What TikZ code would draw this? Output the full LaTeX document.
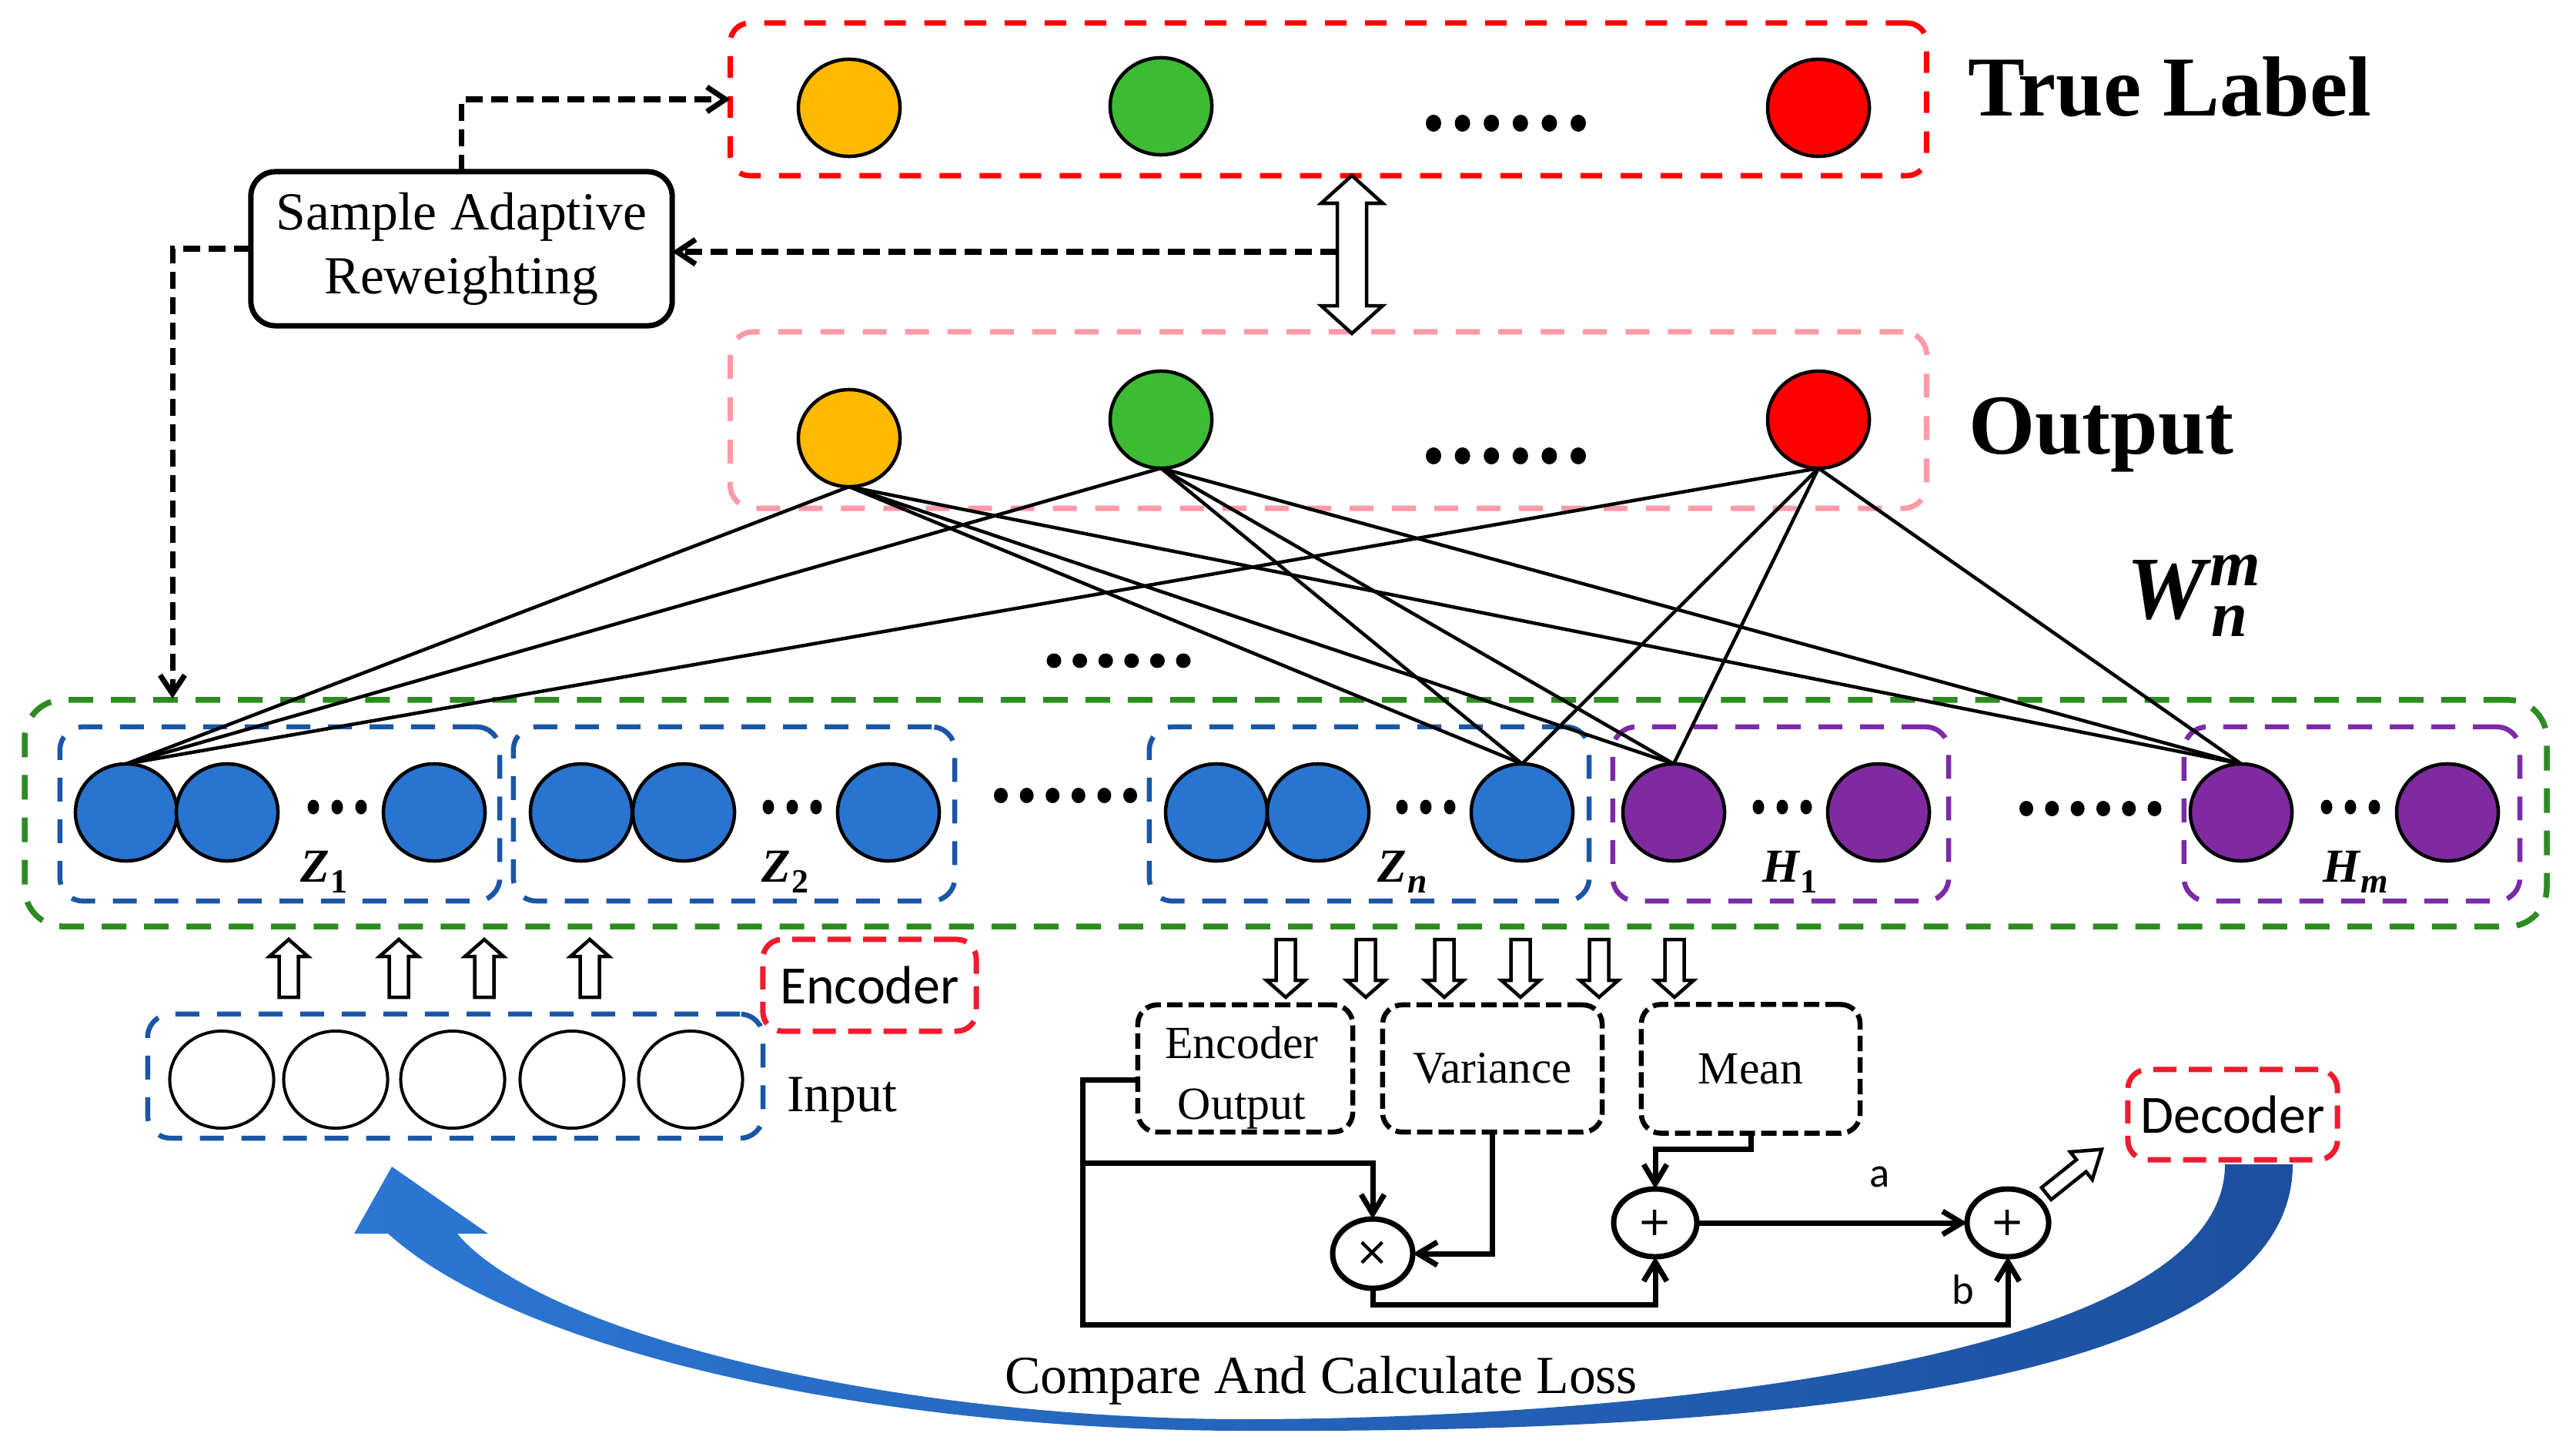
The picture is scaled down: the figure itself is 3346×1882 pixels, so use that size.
\documentclass[tikz,border=0pt]{standalone}
\usepackage{fontspec}
\setmainfont{Liberation Serif}
\newfontfamily\carl{Carlito}
\newfontfamily\djv{DejaVu Sans}
\usetikzlibrary{shapes.geometric,arrows.meta,calc}
\definecolor{tlred}{HTML}{FF0000}
\definecolor{pinkc}{HTML}{FF9AA6}
\definecolor{ogold}{HTML}{FFBA00}
\definecolor{ogreen}{HTML}{3DBB35}
\definecolor{zblue}{HTML}{2874D0}
\definecolor{bblue}{HTML}{1A56A6}
\definecolor{hpurp}{HTML}{7F2AA0}
\definecolor{ppurp}{HTML}{7B2AA8}
\definecolor{ggreen}{HTML}{2E8B22}
\definecolor{encred}{HTML}{EE1C2E}
\definecolor{arrL}{HTML}{2B77D4}
\definecolor{arrR}{HTML}{1D4F9E}
\newcommand{\myfs}[1]{\fontsize{#1}{#1}\selectfont}
\newcommand{\zlab}[2]{{\myfs{17.5}\bfseries\itshape #1\kern0.5pt\raisebox{-4pt}{\myfs{12.5}\upshape #2}}}
\newcommand{\hlab}[2]{{\myfs{17.5}\bfseries\itshape #1\kern0.5pt\raisebox{-4pt}{\myfs{13}#2}}}
\begin{document}
\begin{tikzpicture}[x=0.01cm,y=-0.01cm,
  every node/.style={inner sep=0pt,outer sep=0pt},
  tlbox/.style={draw=tlred,line width=0.07cm,dash pattern=on 0.28cm off 0.24cm,rounded corners=0.25cm},
  pkbox/.style={draw=pinkc,line width=0.07cm,dash pattern=on 0.31cm off 0.24cm,rounded corners=0.3cm},
  gbox/.style={draw=ggreen,line width=0.075cm,dash pattern=on 0.32cm off 0.23cm,rounded corners=0.5cm},
  bbox/.style={draw=bblue,line width=0.065cm,dash pattern=on 0.31cm off 0.23cm,rounded corners=0.3cm},
  pbox/.style={draw=ppurp,line width=0.065cm,dash pattern=on 0.31cm off 0.23cm,rounded corners=0.3cm},
  rbox/.style={draw=encred,line width=0.07cm,dash pattern=on 0.3cm off 0.16cm,rounded corners=0.25cm},
  kbox/.style={draw=black,line width=0.065cm,dash pattern=on 0.2cm off 0.08cm,rounded corners=0.25cm},
  sarbox/.style={draw=black,line width=0.07cm,rounded corners=0.32cm},
  circ/.style={ellipse,draw=black,line width=0.045cm,minimum width=1.32cm,minimum height=1.26cm},
  incirc/.style={ellipse,draw=black,line width=0.04cm,fill=white,minimum width=1.35cm,minimum height=1.26cm},
  opc/.style={ellipse,draw=black,line width=0.07cm,fill=white,font=\djv\myfs{15}},
  netline/.style={line width=0.045cm},
  sardash/.style={line width=0.07cm,dash pattern=on 0.22cm off 0.11cm,-{Straight Barb[length=0.24cm,width=0.32cm]}},
  opl/.style={line width=0.07cm,-{Straight Barb[length=0.25cm,width=0.3cm]}},
  blockarr/.style={draw=black,line width=0.045cm,fill=white,line join=miter},
  uparr/.pic={\draw[blockarr] (-12.5,0) -- (-12.5,-53) -- (-25,-53) -- (0,-75) -- (25,-53) -- (12.5,-53) -- (12.5,0) -- cycle;},
  downarr/.pic={\draw[blockarr] (-12.5,0) -- (-12.5,53) -- (-25,53) -- (0,75) -- (25,53) -- (12.5,53) -- (12.5,0) -- cycle;},
  decarr/.pic={\draw[blockarr] (-10,0) -- (-10,-58) -- (-23,-58) -- (0,-92) -- (23,-58) -- (10,-58) -- (10,0) -- cycle;}
]
\useasboundingbox (0,0) rectangle (3346,1882);
\fill[white] (0,0) rectangle (3346,1882);

% big blue curved arrow
\shade[left color=arrL,right color=arrR]
 (2978,1512) .. controls (2978,1830) and (2150,1860) .. (1620,1858)
 .. controls (1150,1858) and (680,1760) .. (504,1602)
 -- (460,1602) -- (509,1515) -- (634,1602) -- (594,1602)
 .. controls (700,1730) and (1150,1843) .. (1620,1843)
 .. controls (2000,1843) and (2890,1790) .. (2890,1512) -- cycle;

% boxes
\node[tlbox,minimum width=15.53cm,minimum height=1.98cm] (tl) at (1725.5,129) {};
\node[pkbox,minimum width=15.53cm,minimum height=2.29cm] (ob) at (1725.5,545.5) {};
\node[sarbox,minimum width=5.47cm,minimum height=2cm,align=center,font=\fontsize{19.8}{23.6}\selectfont] (sar) at (599.5,323) {Sample Adaptive\\Reweighting};
\node[gbox,minimum width=32.74cm,minimum height=2.94cm] (gb) at (1670,1056) {};
\node[bbox,minimum width=5.71cm,minimum height=2.26cm] (gz1) at (363.5,1057) {};
\node[bbox,minimum width=5.73cm,minimum height=2.26cm] (gz2) at (953.5,1057) {};
\node[bbox,minimum width=5.71cm,minimum height=2.26cm] (gzn) at (1778.5,1057) {};
\node[pbox,minimum width=4.36cm,minimum height=2.26cm] (gh1) at (2313,1057) {};
\node[pbox,minimum width=4.36cm,minimum height=2.26cm] (ghm) at (3055,1057) {};
\node[bbox,minimum width=7.99cm,minimum height=1.61cm] (inb) at (591.5,1397.5) {};
\node[rbox,minimum width=2.77cm,minimum height=1.19cm,font=\carl\myfs{19.9}] (enc) at (1129.5,1279.5) {Encoder};
\node[kbox,minimum width=2.79cm,minimum height=1.65cm] (eo) at (1617.5,1387.5) {};
\node[align=center,font=\fontsize{17}{22.5}\selectfont] (eot) at (1613,1400) {Encoder\\Output};
\node[kbox,minimum width=2.85cm,minimum height=1.65cm,font=\myfs{16.8}] (var) at (1938.5,1387.5) {Variance};
\node[kbox,minimum width=2.84cm,minimum height=1.67cm,font=\myfs{17}] (mean) at (2274,1388) {Mean};
\node[rbox,minimum width=2.72cm,minimum height=1.17cm,font=\carl\myfs{19.9}] (dec) at (2900,1447.5) {Decoder};

% label circles
\foreach \n/\x/\y/\c in {ty/1103/140/ogold, tg/1508/138/ogreen, tr/2362/140/tlred,
  oy/1103/569/ogold, og/1508/545/ogreen, or/2362/545/tlred}
  \node[circ,fill=\c] (\n) at (\x,\y) {};

% hidden circles
\foreach \n/\x in {z11/164,z12/295,z13/564,z21/755,z22/888,z23/1154,zn1/1580,zn2/1712,zn3/1977}
  \node[circ,fill=zblue] (\n) at (\x,1055) {};
\foreach \n/\x in {h11/2174,h12/2440,hm1/2911,hm2/3179}
  \node[circ,fill=hpurp] (\n) at (\x,1055) {};

% input circles
\foreach \n/\x in {in1/288,in2/436,in3/588,in4/743,in5/897}
  \node[incirc] (\n) at (\x,1402) {};

% network connections
\foreach \o in {oy,og,or}
  \foreach \h in {z11,zn3,h11,hm1}
    \draw[netline] (\o.south) -- (\h.north);

% dots
\foreach \i in {0,...,5} {
  \fill ({1862+37.6*\i},160) ellipse [x radius=0.1cm,y radius=0.11cm];
  \fill ({1862+37.6*\i},592) ellipse [x radius=0.1cm,y radius=0.11cm];
  \fill ({1369+33.6*\i},858) circle [radius=0.095cm];
  \fill ({1300+33.6*\i},1033) ellipse [x radius=0.09cm,y radius=0.1cm];
  \fill ({2632+33.3*\i},1050) ellipse [x radius=0.09cm,y radius=0.1cm];
}
\foreach \cx in {438,1029,1852,2315,3053}
  \foreach \d in {-31,0,31}
    \fill ({\cx+\d},1048) ellipse [x radius=0.075cm,y radius=0.095cm];

% group labels
\node[anchor=base west] (lz1) at (390,1145) {\zlab{Z}{1}};
\node[anchor=base west] (lz2) at (989,1145) {\zlab{Z}{2}};
\node[anchor=base west] (lzn) at (1789,1145) {\hlab{Z}{n}};
\node[anchor=base west] (lh1) at (2289,1145) {\zlab{H}{1}};
\node[anchor=base west] (lhm) at (3017,1145) {\hlab{H}{m}};
\node[anchor=base west,font=\myfs{33}\bfseries\itshape] (wlab) at (2762,803) {W};
\node[anchor=base west,font=\myfs{24}\bfseries\itshape] (wsup) at (2870,760) {m};
\node[anchor=base west,font=\myfs{24}\bfseries\itshape] (wsub) at (2872,826) {n};

% titles
\node[anchor=base west,font=\myfs{31.5}\bfseries] (ttl) at (2556,150) {True Label};
\node[anchor=base west,font=\myfs{31.5}\bfseries] (tout) at (2557,589) {Output};
\node[anchor=base west,font=\myfs{19.3}] (tin) at (1022,1443) {Input};
\node[anchor=base,font=\myfs{19.8}] (tcmp) at (1716,1809) {Compare And Calculate Loss};

% double arrow between true label and output
\draw[blockarr] (1756,228) -- (1796,264) -- (1775,264) -- (1775,397) -- (1796,397) -- (1756,433)
  -- (1716,397) -- (1737,397) -- (1737,264) -- (1716,264) -- cycle;
\coordinate (dac) at (1737,327);

% sample adaptive reweighting dashed arrows
\draw[sardash] (sar.north) |- (tl.west);
\draw[sardash] (dac) -- (sar.east |- dac);
\coordinate (gbtop) at (224,907);
\draw[sardash] (sar.west) -| (gbtop);

% block arrows
\foreach \x in {375,518,629,766} \pic at (\x,1295) {uparr};
\foreach \x in {1670,1774,1876,1975,2077,2175} \pic at (\x,1220) {downarr};
\pic[rotate=-51.4] at (2658,1550) {decarr};

% operators
\node[opc,minimum width=1.04cm,minimum height=0.9cm] (mul) at (1783,1628) {×};
\node[opc,minimum width=1.08cm,minimum height=0.88cm] (p1) at (2150,1588) {+};
\node[opc,minimum width=1.06cm,minimum height=0.88cm] (p2) at (2608,1588) {+};
\coordinate (eoL) at ($(eo.west)+(0,15)$);
\coordinate (lc) at (1406,1720);
\coordinate (lj) at (1406,1510);
\draw[opl] (eoL) -| (lc) -| (p2.south);
\draw[opl] (lj) -| (mul.north);
\draw[opl] (var.south) |- (mul.east);
\draw[opl] (mean.south) -- ++(0,20.5) -| (p1.north);
\draw[opl] (mul.south) -- ++(0,21) -| (p1.south);
\draw[opl] (p1.east) -- (p2.west);
\node[font=\carl\myfs{15.5}] (la) at (2442,1528) {a};
\node[font=\carl\myfs{15.5}] (lb) at (2550,1675) {b};
\end{tikzpicture}
\end{document}
